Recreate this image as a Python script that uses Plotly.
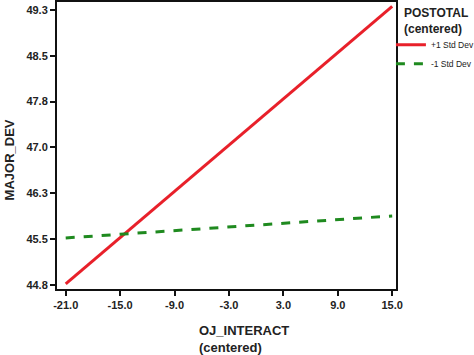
import plotly.graph_objects as go

x_vals = [-21.0, 15.0]
plus_sd = [44.77, 49.31]
minus_sd = [45.52, 45.88]
series_names = ["+1 Std Dev", "-1 Std Dev"]
legend_title = "POSTOTAL<br>(centered)"
x_ticks = [-21, -15, -9, -3, 3, 9, 15]
x_tick_labels = ["-21.0", "-15.0", "-9.0", "-3.0", "3.0", "9.0", "15.0"]
y_ticks = [44.75, 45.5, 46.25, 47.0, 47.75, 48.5, 49.25]
y_tick_labels = ["44.8", "45.5", "46.3", "47.0", "47.8", "48.5", "49.3"]

FONT = "Liberation Sans, Arial, sans-serif"
fig = go.Figure()
fig.add_trace(go.Scatter(x=x_vals, y=plus_sd, mode="lines", name=series_names[0],
                         line=dict(color="#e8202a", width=3)))
fig.add_trace(go.Scatter(x=x_vals, y=minus_sd, mode="lines", name=series_names[1],
                         line=dict(color="#1f8a1f", width=3, dash="dash")))

axis_common = dict(showgrid=False, zeroline=False, showline=True, linecolor="#111111",
                   linewidth=2, mirror=True, ticks="outside", ticklen=5, tickwidth=1.5,
                   tickcolor="#111111", automargin=False,
                   tickfont=dict(size=11, family=FONT, color="#222222"))

fig.update_layout(
    width=474, height=355,
    margin=dict(l=57, r=78, t=2, b=66, autoexpand=False),
    paper_bgcolor="white", plot_bgcolor="white",
    font=dict(family=FONT, color="#222222"),
    showlegend=True,
    legend=dict(
        x=0.985, xanchor="left", xref="paper", y=0.902, yanchor="top",
        font=dict(size=8.5, color="#222222"),
        bgcolor="rgba(0,0,0,0)", itemwidth=30, tracegroupgap=0,
    ),
    xaxis=dict(range=[-21.96, 15.42], tickvals=x_ticks,
               ticktext=["<b>%s</b>" % t for t in x_tick_labels], **axis_common),
    yaxis=dict(range=[44.685, 49.38], tickvals=y_ticks,
               ticktext=["<b>%s</b>" % t for t in y_tick_labels], **axis_common),
    annotations=[
        dict(text="<b>%s</b>" % legend_title, xref="paper", yref="paper",
             x=1.018, y=0.994, xanchor="left", yanchor="top", align="left",
             showarrow=False, font=dict(size=12, family=FONT, color="#222222")),
        dict(text="<b>OJ_INTERACT<br>(centered)</b>", xref="paper", yref="paper",
             x=0.414, y=-0.11, xanchor="left", yanchor="top", align="left",
             showarrow=False, font=dict(size=13, family=FONT, color="#222222")),
        dict(text="<b>MAJOR_DEV</b>", xref="paper", yref="paper",
             x=-0.14, y=0.45, xanchor="center", yanchor="middle", textangle=-90,
             showarrow=False, font=dict(size=13, family=FONT, color="#222222")),
    ],
)
fig.write_html("out.html", config={"displayModeBar": False},
               post_script="document.body.style.margin='0';document.body.style.overflow='hidden';")
